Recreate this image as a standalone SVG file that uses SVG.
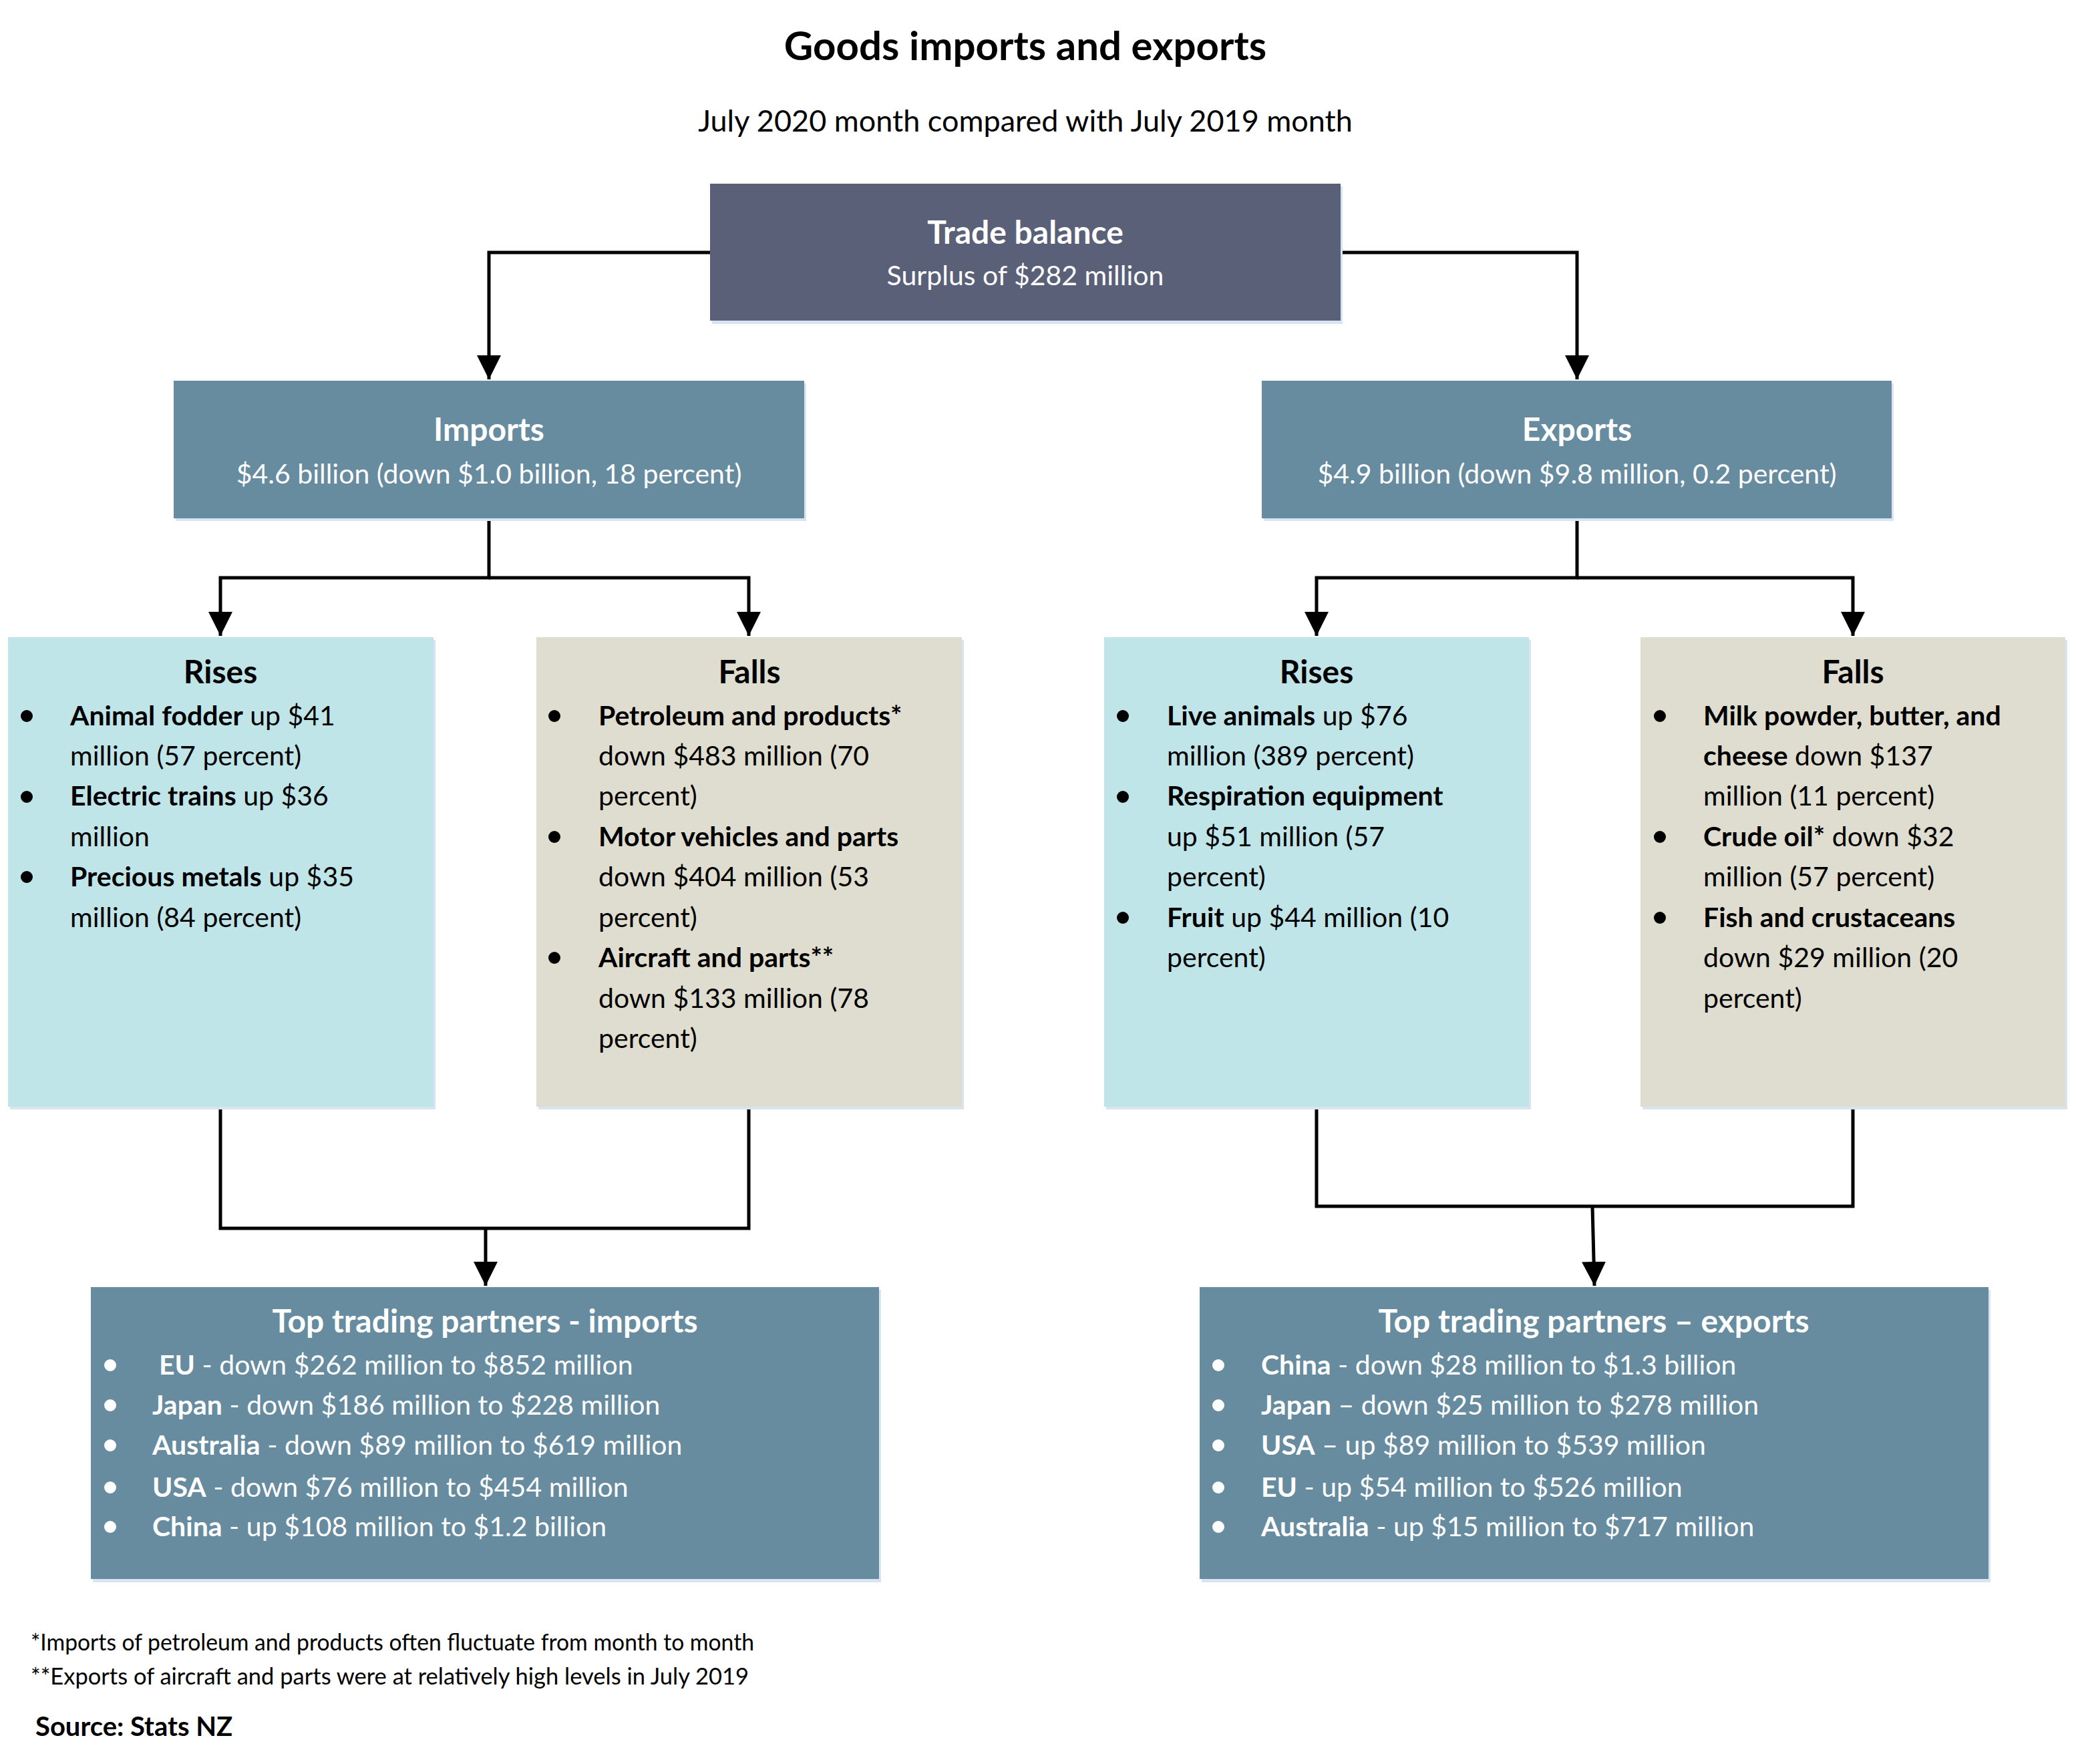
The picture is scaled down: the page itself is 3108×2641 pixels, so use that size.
<svg xmlns="http://www.w3.org/2000/svg" width="3108" height="2641" viewBox="0 0 3108 2641">
<style>
text{font-family:Lato,"Open Sans","Liberation Sans",sans-serif;}
.w{fill:#fff}
.k{fill:#000}
.h{font-size:48px;font-weight:bold;text-anchor:middle}
.s{font-size:41px;text-anchor:middle}
.b{font-size:41px}
.bb{font-weight:bold}
.c{stroke:#000;stroke-width:5;fill:none}
.sh{fill:#d9e4f2}
.dot{fill:#000}
.wdot{fill:#fff}
</style>
<defs>
<marker id="ar" markerWidth="10" markerHeight="10" refX="9" refY="5" orient="auto" markerUnits="userSpaceOnUse" viewBox="0 0 10 10">
</marker>
<marker id="a" viewBox="0 0 36 36" refX="36" refY="18" markerWidth="36" markerHeight="36" markerUnits="userSpaceOnUse" orient="auto"><path d="M0,0 L36,18 L0,36 Z" fill="#000"/></marker>
</defs>
<rect width="3108" height="2641" fill="#fff"/>
<text x="1535" y="90" text-anchor="middle" font-size="60" font-weight="bold">Goods imports and exports</text>
<text x="1535" y="197" text-anchor="middle" font-size="45">July 2020 month compared with July 2019 month</text>

<g id="connectors">
<path class="c" d="M1063,378 H732 V568" marker-end="url(#a)"/>
<path class="c" d="M2007,378 H2361 V568" marker-end="url(#a)"/>
<path class="c" d="M732,776 V865 H330 V952" marker-end="url(#a)"/>
<path class="c" d="M732,865 H1121 V952" marker-end="url(#a)"/>
<path class="c" d="M2361,776 V865 H1971 V952" marker-end="url(#a)"/>
<path class="c" d="M2361,865 H2774 V952" marker-end="url(#a)"/>
<path class="c" d="M330,1656 V1839 H1121 V1656"/>
<path class="c" d="M727,1839 V1925" marker-end="url(#a)"/>
<path class="c" d="M1971,1656 V1806 H2774 V1656"/>
<path class="c" d="M2384,1806 L2387,1925" marker-end="url(#a)"/>
</g>

<g id="trade">
<rect class="sh" x="1066" y="279" width="944" height="206"/>
<rect x="1063" y="275" width="944" height="205" fill="#5b6079"/>
<text class="h w" x="1535" y="365">Trade balance</text>
<text class="s w" x="1535" y="427">Surplus of $282 million</text>
</g>

<g id="imports">
<rect class="sh" x="263" y="574" width="944" height="206"/>
<rect x="260" y="570" width="944" height="206" fill="#678c9f"/>
<text class="h w" x="732" y="660">Imports</text>
<text class="s w" x="732" y="724">$4.6 billion (down $1.0 billion, 18 percent)</text>
</g>

<g id="exports">
<rect class="sh" x="1892" y="574" width="943" height="206"/>
<rect x="1889" y="570" width="943" height="206" fill="#678c9f"/>
<text class="h w" x="2361" y="660">Exports</text>
<text class="s w" x="2361" y="724">$4.9 billion (down $9.8 million, 0.2 percent)</text>
</g>

<g id="imp-rises">
<rect class="sh" x="15" y="958" width="637" height="703"/>
<rect x="12" y="954" width="637" height="703" fill="#c0e5e9"/>
<text class="h k" x="330" y="1023">Rises</text>
<circle class="dot" cx="40" cy="1072" r="9"/>
<circle class="dot" cx="40" cy="1193" r="9"/>
<circle class="dot" cx="40" cy="1313" r="9"/>
<text class="b k" x="105" y="1086"><tspan class="bb">Animal fodder</tspan> up $41</text>
<text class="b k" x="105" y="1146">million (57 percent)</text>
<text class="b k" x="105" y="1206"><tspan class="bb">Electric trains</tspan> up $36</text>
<text class="b k" x="105" y="1267">million</text>
<text class="b k" x="105" y="1327"><tspan class="bb">Precious metals</tspan> up $35</text>
<text class="b k" x="105" y="1388">million (84 percent)</text>
</g>

<g id="imp-falls">
<rect class="sh" x="806" y="958" width="637" height="703"/>
<rect x="803" y="954" width="637" height="703" fill="#dfddcf"/>
<text class="h k" x="1122" y="1023">Falls</text>
<circle class="dot" cx="830" cy="1072" r="9"/>
<circle class="dot" cx="830" cy="1253" r="9"/>
<circle class="dot" cx="830" cy="1434" r="9"/>
<text class="b k" x="896" y="1086"><tspan class="bb">Petroleum and products*</tspan></text>
<text class="b k" x="896" y="1146">down $483 million (70</text>
<text class="b k" x="896" y="1206">percent)</text>
<text class="b k" x="896" y="1267"><tspan class="bb">Motor vehicles and parts</tspan></text>
<text class="b k" x="896" y="1327">down $404 million (53</text>
<text class="b k" x="896" y="1388">percent)</text>
<text class="b k" x="896" y="1448"><tspan class="bb">Aircraft and parts**</tspan></text>
<text class="b k" x="896" y="1509">down $133 million (78</text>
<text class="b k" x="896" y="1569">percent)</text>
</g>

<g id="exp-rises">
<rect class="sh" x="1656" y="958" width="636" height="703"/>
<rect x="1653" y="954" width="636" height="703" fill="#c0e5e9"/>
<text class="h k" x="1971" y="1023">Rises</text>
<circle class="dot" cx="1681" cy="1072" r="9"/>
<circle class="dot" cx="1681" cy="1193" r="9"/>
<circle class="dot" cx="1681" cy="1374" r="9"/>
<text class="b k" x="1747" y="1086"><tspan class="bb">Live animals</tspan> up $76</text>
<text class="b k" x="1747" y="1146">million (389 percent)</text>
<text class="b k" x="1747" y="1206"><tspan class="bb">Respiration equipment</tspan></text>
<text class="b k" x="1747" y="1267">up $51 million (57</text>
<text class="b k" x="1747" y="1327">percent)</text>
<text class="b k" x="1747" y="1388"><tspan class="bb">Fruit</tspan> up $44 million (10</text>
<text class="b k" x="1747" y="1448">percent)</text>
</g>

<g id="exp-falls">
<rect class="sh" x="2459" y="958" width="636" height="703"/>
<rect x="2456" y="954" width="636" height="703" fill="#dfddcf"/>
<text class="h k" x="2774" y="1023">Falls</text>
<circle class="dot" cx="2485" cy="1072" r="9"/>
<circle class="dot" cx="2485" cy="1253" r="9"/>
<circle class="dot" cx="2485" cy="1374" r="9"/>
<text class="b k" x="2550" y="1086"><tspan class="bb">Milk powder, butter, and</tspan></text>
<text class="b k" x="2550" y="1146"><tspan class="bb">cheese</tspan> down $137</text>
<text class="b k" x="2550" y="1206">million (11 percent)</text>
<text class="b k" x="2550" y="1267"><tspan class="bb">Crude oil*</tspan> down $32</text>
<text class="b k" x="2550" y="1327">million (57 percent)</text>
<text class="b k" x="2550" y="1388"><tspan class="bb">Fish and crustaceans</tspan></text>
<text class="b k" x="2550" y="1448">down $29 million (20</text>
<text class="b k" x="2550" y="1509">percent)</text>
</g>

<g id="imp-partners">
<rect class="sh" x="139" y="1931" width="1180" height="438"/>
<rect x="136" y="1927" width="1180" height="437" fill="#678c9f"/>
<text class="h w" x="726" y="1995">Top trading partners - imports</text>
<circle class="wdot" cx="165" cy="2044" r="9"/>
<circle class="wdot" cx="165" cy="2104" r="9"/>
<circle class="wdot" cx="165" cy="2164" r="9"/>
<circle class="wdot" cx="165" cy="2227" r="9"/>
<circle class="wdot" cx="165" cy="2286" r="9"/>
<text class="b w" x="228" y="2058" xml:space="preserve"><tspan class="bb"> EU</tspan> - down $262 million to $852 million</text>
<text class="b w" x="228" y="2118"><tspan class="bb">Japan</tspan> - down $186 million to $228 million</text>
<text class="b w" x="228" y="2178"><tspan class="bb">Australia</tspan> - down $89 million to $619 million</text>
<text class="b w" x="228" y="2241"><tspan class="bb">USA</tspan> - down $76 million to $454 million</text>
<text class="b w" x="228" y="2300"><tspan class="bb">China</tspan> - up $108 million to $1.2 billion</text>
</g>

<g id="exp-partners">
<rect class="sh" x="1799" y="1931" width="1181" height="438"/>
<rect x="1796" y="1927" width="1181" height="437" fill="#678c9f"/>
<text class="h w" x="2386" y="1995">Top trading partners – exports</text>
<circle class="wdot" cx="1824" cy="2044" r="9"/>
<circle class="wdot" cx="1824" cy="2104" r="9"/>
<circle class="wdot" cx="1824" cy="2164" r="9"/>
<circle class="wdot" cx="1824" cy="2227" r="9"/>
<circle class="wdot" cx="1824" cy="2286" r="9"/>
<text class="b w" x="1888" y="2058"><tspan class="bb">China</tspan> - down $28 million to $1.3 billion</text>
<text class="b w" x="1888" y="2118"><tspan class="bb">Japan</tspan> – down $25 million to $278 million</text>
<text class="b w" x="1888" y="2178"><tspan class="bb">USA</tspan> – up $89 million to $539 million</text>
<text class="b w" x="1888" y="2241"><tspan class="bb">EU</tspan> - up $54 million to $526 million</text>
<text class="b w" x="1888" y="2300"><tspan class="bb">Australia</tspan> - up $15 million to $717 million</text>
</g>

<g id="notes">
<text x="46" y="2471" font-size="34" font-family="Liberation Sans" textLength="1083" lengthAdjust="spacingAndGlyphs">*Imports of petroleum and products often fluctuate from month to month</text>
<text x="46" y="2522" font-size="34" font-family="Liberation Sans" textLength="1075" lengthAdjust="spacingAndGlyphs">**Exports of aircraft and parts were at relatively high levels in July 2019</text>
<text x="53" y="2599" font-size="40" font-weight="bold">Source: Stats NZ</text>
</g>
</svg>
